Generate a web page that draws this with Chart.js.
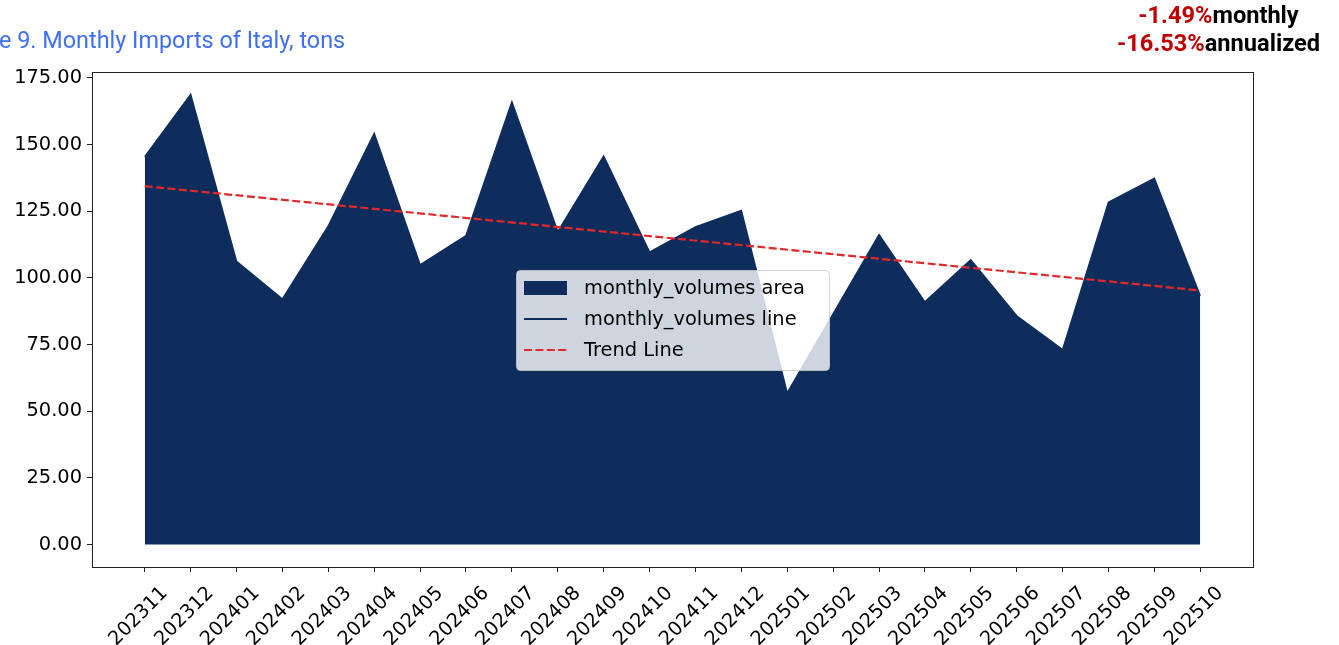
<!DOCTYPE html>
<html>
<head>
<meta charset="utf-8">
<script src="https://cdn.jsdelivr.net/npm/chart.js@4"></script>
<style>
  body { margin: 0; background: #fff; }
  #wrap { position: relative; width: 1339px; height: 645px; }
</style>
</head>
<body>
<div id="wrap"><canvas id="chart" width="1339" height="645"></canvas></div>
<script>
// data
const months = ['202311', '202312', '202401', '202402', '202403', '202404', '202405', '202406',
  '202407', '202408', '202409', '202410', '202411', '202412', '202501', '202502',
  '202503', '202504', '202505', '202506', '202507', '202508', '202509', '202510']
const volumes = [145.5, 168.8, 106.2, 92.1, 119.5, 154.2, 104.9, 115.9,
  166.1, 117.4, 145.7, 109.7, 119.1, 125.3, 56.9, 86.5,
  116.2, 91.0, 106.8, 85.8, 73.1, 128.4, 137.4, 93.3]
const trendStart = 134.4
const trendEnd = 95.3
const yTicks = [0, 25, 50, 75, 100, 125, 150, 175]
const titleText = 'e 9. Monthly Imports of Italy, tons'
const monthlyChange = '-1.49%'
const annualChange = '-16.53%'

const NAVY = '#0e2d5c'
const RED = '#e22828'
const tickFont = { family: 'DejaVu Sans', size: 19.4 }

// matplotlib-like margins (5% each side)
const yMax = Math.max(...volumes)
const yPad = yMax * 0.05
const xPad = (months.length - 1) * 0.05

const points = volumes.map((v, i) => ({ x: i, y: v }))
const trendPoints = [{ x: 0, y: trendStart }, { x: months.length - 1, y: trendEnd }]

const framePlugin = {
  id: 'frame',
  afterDatasetsDraw(chart) {
    const { ctx, chartArea: a } = chart
    ctx.save()
    ctx.strokeStyle = '#222'
    ctx.lineWidth = 1
    ctx.strokeRect(a.left + 0.5, a.top + 0.5, a.right - a.left, a.bottom - a.top)
    ctx.restore()
  }
}

// legend drawn like the matplotlib one, in the middle of the plot
const legendPlugin = {
  id: 'mplLegend',
  afterDraw(chart) {
    const { ctx } = chart
    const x = 516, y = 270, w = 313, h = 100
    ctx.save()
    ctx.beginPath()
    ctx.roundRect(x + 0.5, y + 0.5, w, h, 4)
    ctx.fillStyle = 'rgba(255,255,255,0.8)'
    ctx.fill()
    ctx.strokeStyle = 'rgba(204,204,204,0.8)'
    ctx.lineWidth = 1
    ctx.stroke()

    ctx.font = '19.4px "DejaVu Sans"'
    ctx.textBaseline = 'middle'
    chart.data.datasets.forEach((ds, i) => {
      const cy = y + 18 + i * 31
      if (ds.fill) {
        ctx.fillStyle = ds.backgroundColor
        ctx.fillRect(x + 8, cy - 7, 43, 14)
      } else {
        ctx.beginPath()
        ctx.setLineDash(ds.borderDash || [])
        ctx.strokeStyle = ds.borderColor
        ctx.lineWidth = 2
        ctx.moveTo(x + 8, cy)
        ctx.lineTo(x + 51, cy)
        ctx.stroke()
        ctx.setLineDash([])
      }
      ctx.fillStyle = '#000'
      ctx.fillText(ds.label, x + 68, cy + 1)
    })
    ctx.restore()
  }
}

const textPlugin = {
  id: 'texts',
  afterDraw(chart) {
    const { ctx } = chart
    ctx.save()
    ctx.textBaseline = 'middle'
    ctx.font = '23.4px Roboto'
    ctx.fillStyle = '#3f6ff2'
    ctx.fillText(titleText, -1, 42)

    ctx.font = 'bold 23.6px Roboto'
    const lines = [[monthlyChange, 'monthly', 17], [annualChange, 'annualized', 45]]
    lines.forEach(([pct, word, cy]) => {
      const w1 = ctx.measureText(pct).width
      const w2 = ctx.measureText(word).width
      const left = 1218.5 - (w1 + w2) / 2
      ctx.fillStyle = '#c00000'
      ctx.fillText(pct, left, cy)
      ctx.fillStyle = '#000'
      ctx.fillText(word, left + w1, cy)
    })
    ctx.restore()
  }
}

new Chart(document.getElementById('chart'), {
  type: 'line',
  data: {
    datasets: [
      {
        label: 'monthly_volumes area',
        data: points,
        order: 3,
        fill: 'origin',
        backgroundColor: NAVY,
        borderColor: NAVY,
        borderWidth: 0,
        pointRadius: 0,
        tension: 0
      },
      {
        label: 'monthly_volumes line',
        data: points,
        order: 2,
        fill: false,
        borderColor: NAVY,
        borderWidth: 1.5,
        pointRadius: 0,
        tension: 0
      },
      {
        label: 'Trend Line',
        data: trendPoints,
        order: 1,
        fill: false,
        borderColor: RED,
        borderWidth: 2.2,
        borderDash: [8, 3.4],
        pointRadius: 0
      }
    ]
  },
  options: {
    responsive: false,
    animation: false,
    layout: { padding: { left: 0, top: 72, right: 86, bottom: 0 } },
    plugins: {
      legend: { display: false },
      tooltip: { enabled: false }
    },
    scales: {
      x: {
        type: 'linear',
        min: -xPad,
        max: months.length - 1 + xPad,
        afterBuildTicks: (scale) => { scale.ticks = months.map((m, i) => ({ value: i })) },
        afterFit: (scale) => {
          scale.height = 78
          scale.paddingLeft = 0
          scale.paddingRight = 0
        },
        grid: { drawOnChartArea: false, tickLength: 5, color: '#222', tickColor: '#222' },
        border: { color: '#222' },
        ticks: {
          autoSkip: false,
          maxRotation: 45,
          minRotation: 45,
          padding: 10,
          labelOffset: 20,
          color: '#000',
          font: tickFont,
          callback: (v) => months[v]
        }
      },
      y: {
        min: -yPad,
        max: yMax + yPad,
        afterBuildTicks: (scale) => { scale.ticks = yTicks.map(v => ({ value: v })) },
        afterFit: (scale) => { scale.width = 92 },
        grid: { drawOnChartArea: false, tickLength: 5, color: '#222', tickColor: '#222' },
        border: { color: '#222' },
        ticks: {
          padding: 5,
          color: '#000',
          font: tickFont,
          callback: (v) => v.toFixed(2)
        }
      }
    }
  },
  plugins: [framePlugin, legendPlugin, textPlugin]
})
</script>
</body>
</html>
